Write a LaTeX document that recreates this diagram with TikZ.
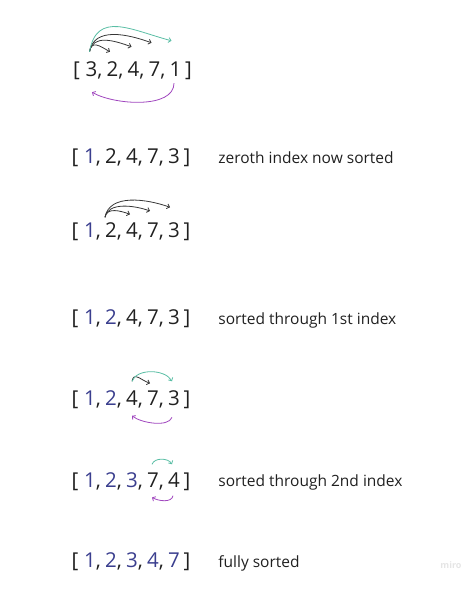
\documentclass[tikz,border=0pt]{standalone}
\usepackage{fontspec}
\setmainfont{Open Sans}
\usetikzlibrary{arrows.meta}
\definecolor{ink}{RGB}{32,32,32}
\definecolor{done}{RGB}{58,62,142}
\definecolor{swapto}{RGB}{90,190,165}
\definecolor{swapfrom}{RGB}{160,70,190}
\tikzstyle{num} = [inner sep=0pt, text height=14.6pt, text depth=0pt,
    text=ink, font=\fontsize{20.5}{24}\selectfont]
\tikzstyle{ok} = [num, text=done]
\tikzstyle{note} = [anchor=base west, inner sep=0pt, text=ink,
    font=\fontsize{15.5}{18}\selectfont]
\tikzstyle{peek} = [->, draw=ink!90]
\tikzstyle{swapfw} = [->, draw=swapto]
\tikzstyle{swapbk} = [->, draw=swapfrom]

\begin{document}
\begin{tikzpicture}[x=1pt,y=1pt,>={Straight Barb[length=2.5pt,width=5pt]},
                    line width=0.8pt,node distance=21pt]
  \useasboundingbox (0,0) rectangle (474,601);

  % [ 3, 2, 4, 7, 1 ]
  \node[num] (a1) at (91.5,531.5) {3\rlap{,}};
  \node[num] (a2) [right of=a1] {2\rlap{,}};
  \node[num] (a3) [right of=a2] {4\rlap{,}};
  \node[num] (a4) [right of=a3] {7\rlap{,}};
  \node[num] (a5) [right of=a4] {1};
  \node[num] (aL) [left of=a1,node distance=15pt] {[};
  \node[num] (aR) [right of=a5,node distance=13pt] {]};

  % [ 1, 2, 4, 7, 3 ]
  \node[ok]  (b1) at (90,445.2) {1\rlap{\color{ink},}};
  \node[num] (b2) [right of=b1] {2\rlap{,}};
  \node[num] (b3) [right of=b2] {4\rlap{,}};
  \node[num] (b4) [right of=b3] {7\rlap{,}};
  \node[num] (b5) [right of=b4] {3};
  \node[num] (bL) [left of=b1,node distance=15pt] {[};
  \node[num] (bR) [right of=b5,node distance=13pt] {]};
  \node[note] (bT) at (218,437.7) {zeroth index now sorted};

  % [ 1, 2, 4, 7, 3 ]
  \node[ok]  (c1) at (90,371) {1\rlap{\color{ink},}};
  \node[num] (c2) [right of=c1] {2\rlap{,}};
  \node[num] (c3) [right of=c2] {4\rlap{,}};
  \node[num] (c4) [right of=c3] {7\rlap{,}};
  \node[num] (c5) [right of=c4] {3};
  \node[num] (cL) [left of=c1,node distance=15pt] {[};
  \node[num] (cR) [right of=c5,node distance=13pt] {]};

  % [ 1, 2, 4, 7, 3 ]
  \node[ok]  (d1) at (90,283.3) {1\rlap{\color{ink},}};
  \node[ok]  (d2) [right of=d1] {2\rlap{\color{ink},}};
  \node[num] (d3) [right of=d2] {4\rlap{,}};
  \node[num] (d4) [right of=d3] {7\rlap{,}};
  \node[num] (d5) [right of=d4] {3};
  \node[num] (dL) [left of=d1,node distance=15pt] {[};
  \node[num] (dR) [right of=d5,node distance=13pt] {]};
  \node[note] (dT) at (218,276.5) {sorted through 1st index};

  % [ 1, 2, 4, 7, 3 ]
  \node[ok]  (e1) at (90,203) {1\rlap{\color{ink},}};
  \node[ok]  (e2) [right of=e1] {2\rlap{\color{ink},}};
  \node[num] (e3) [right of=e2] {4\rlap{,}};
  \node[num] (e4) [right of=e3] {7\rlap{,}};
  \node[num] (e5) [right of=e4] {3};
  \node[num] (eL) [left of=e1,node distance=15pt] {[};
  \node[num] (eR) [right of=e5,node distance=13pt] {]};

  % [ 1, 2, 3, 7, 4 ]
  \node[ok]  (f1) at (90,121) {1\rlap{\color{ink},}};
  \node[ok]  (f2) [right of=f1] {2\rlap{\color{ink},}};
  \node[ok]  (f3) [right of=f2] {3\rlap{\color{ink},}};
  \node[num] (f4) [right of=f3] {7\rlap{,}};
  \node[num] (f5) [right of=f4] {4};
  \node[num] (fL) [left of=f1,node distance=15pt] {[};
  \node[num] (fR) [right of=f5,node distance=13pt] {]};
  \node[note] (fT) at (218,114) {sorted through 2nd index};

  % [ 1, 2, 3, 4, 7 ]
  \node[ok]  (g1) at (90,41) {1\rlap{\color{ink},}};
  \node[ok]  (g2) [right of=g1] {2\rlap{\color{ink},}};
  \node[ok]  (g3) [right of=g2] {3\rlap{\color{ink},}};
  \node[ok]  (g4) [right of=g3] {4\rlap{\color{ink},}};
  \node[ok]  (g5) [right of=g4] {7};
  \node[num] (gL) [left of=g1,node distance=15pt] {[};
  \node[num] (gR) [right of=g5,node distance=13pt] {]};
  \node[note] (gT) at (218,33) {fully sorted};

  \node[text=black!10,font=\fontsize{9}{10}\bfseries] (wm) at (451,36) {miro};

  % first pass
  \draw[peek] ([xshift=-2pt,yshift=10pt]a1.north) to[out=80,in=150,looseness=1.5] ([xshift=-2.5pt,yshift=10pt]a2.north);
  \draw[peek] ([xshift=-2pt,yshift=10pt]a1.north) to[out=80,in=160,looseness=1.1] ([xshift=-2pt,yshift=15pt]a3.north);
  \draw[peek] ([xshift=-2pt,yshift=10pt]a1.north) to[out=80,in=160,looseness=1.05] ([xshift=-3pt,yshift=19pt]a4.north);
  \draw[swapfw] ([xshift=-2pt,yshift=10pt]a1.north) to[out=80,in=165,looseness=1.3] ([xshift=-4pt,yshift=21pt]a5.north);
  \draw[swapbk] ([xshift=-1.5pt,yshift=-6pt]a5.south) to[out=-90,in=-30,looseness=0.8] ([xshift=0.5pt,yshift=-15pt]a1.south);

  % second pass
  \draw[peek] ([xshift=-6pt,yshift=5pt]c2.north) to[out=80,in=160,looseness=1.06] ([xshift=-2pt,yshift=8pt]c3.north);
  \draw[peek] ([xshift=-6pt,yshift=5pt]c2.north) to[out=80,in=160,looseness=0.9] ([xshift=-3pt,yshift=11.3pt]c4.north);
  \draw[peek] ([xshift=-6pt,yshift=5pt]c2.north) to[out=80,in=160,looseness=0.95] ([xshift=-4pt,yshift=15pt]c5.north);

  % third pass
  \draw[peek] ([yshift=9pt]e3.north) to[out=80,in=160,looseness=1.4] ([xshift=-3pt,yshift=7pt]e4.north);
  \draw[swapfw] ([yshift=9pt]e3.north) to[out=70,in=120,looseness=0.9] ([xshift=-2pt,yshift=9pt]e5.north);
  \draw[swapbk] ([xshift=-2pt,yshift=-11.7pt]e5.south) to[out=-110,in=-40,looseness=0.7] ([yshift=-10pt]e3.south);

  % fourth pass
  \draw[swapfw] ([xshift=-1pt,yshift=8pt]f4.north) to[out=70,in=120,looseness=0.95] ([xshift=-2pt,yshift=8pt]f5.north);
  \draw[swapbk] ([xshift=-1pt,yshift=-8pt]f5.south) to[out=-100,in=-30,looseness=0.9] ([xshift=-1pt,yshift=-9.7pt]f4.south);
\end{tikzpicture}
\end{document}
